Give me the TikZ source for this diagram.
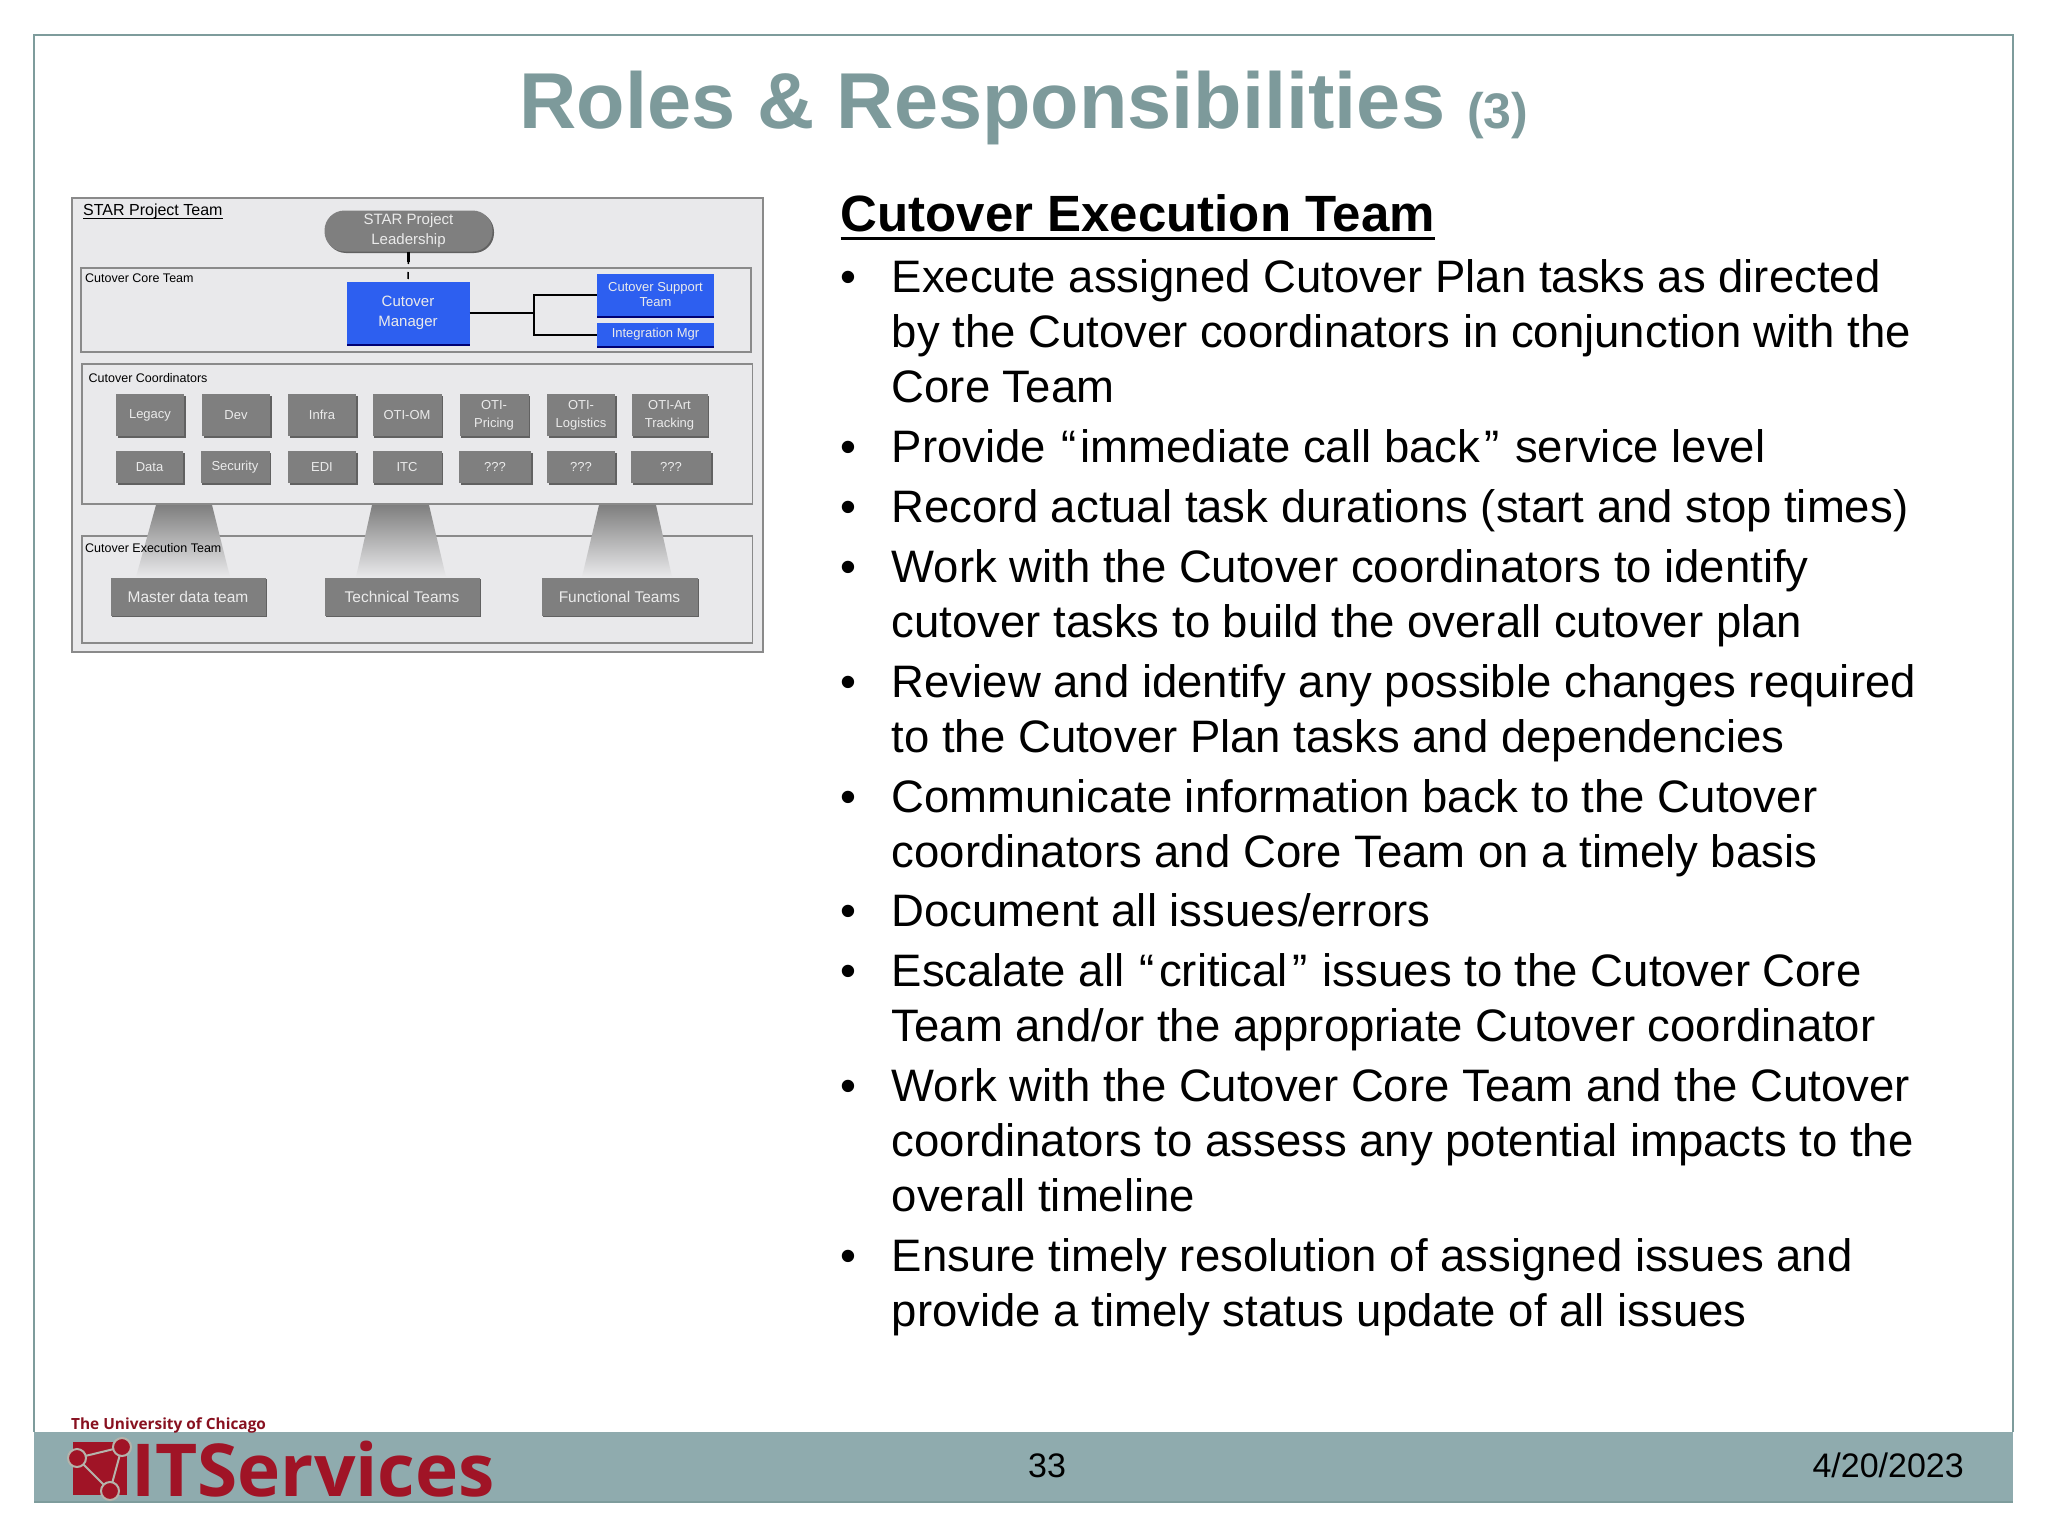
\documentclass[tikz,border=0pt]{standalone}
\usepackage{fontspec}
\usepackage{xcolor}
\setmainfont{Liberation Sans}
\newfontfamily\logofont{Open Sans}
\usetikzlibrary{shadows}
\definecolor{barteal}{HTML}{8FABAE}
\definecolor{frameteal}{HTML}{7E9C9C}
\definecolor{titleteal}{HTML}{7D9A9B}
\definecolor{panelgrey}{HTML}{E9E9EB}
\definecolor{boxgrey}{HTML}{7F7F7F}
\definecolor{edgegrey}{HTML}{8A8A8A}
\definecolor{topblue}{HTML}{2D5FF0}
\definecolor{maroon}{HTML}{A01426}
\definecolor{logoline}{HTML}{B5B3AB}
\newcommand{\openq}{\kern3pt“\kern4pt}
\newcommand{\closeq}{\kern4pt”\kern3pt}
\tikzset{
  bodyline/.style={anchor=base west,inner sep=0pt,font=\fontsize{45.5}{52}\selectfont},
  panelframe/.style={draw=edgegrey,line width=1.5pt},
  panellabel/.style={anchor=base west,inner sep=0pt,font=\fontsize{12.5}{14}\selectfont},
  greybox/.style={fill=boxgrey,text=white!92!black,align=center,inner sep=0pt,
    font=\fontsize{13}{18}\selectfont,
    drop shadow={shadow xshift=1.5pt,shadow yshift=-1.5pt,fill=black!62,opacity=1}},
  bluebox/.style={fill=topblue,text=white!92!black,align=center,inner sep=0pt,
    drop shadow={shadow xshift=0pt,shadow yshift=-2pt,fill=blue!45!black,opacity=1}},
  logodot/.style={circle,fill=maroon,draw=logoline,line width=2pt,minimum size=18pt,inner sep=0pt}
}

\begin{document}
\begin{tikzpicture}[x=1pt,y=-1pt]
  \useasboundingbox (0,0) rectangle (2048,1536);

  % slide frame and footer bar
  \draw[frameteal,line width=2pt] (34,1432)--(34,35)--(2013,35)--(2013,1432);
  \fill[barteal] (34,1432) rectangle (2013,1502);
  \draw[frameteal,line width=1.5pt] (34,1502)--(2013,1502);

  \node[anchor=base,inner sep=0pt,text=titleteal,font=\bfseries] (title) at (1024,129)
    {\fontsize{79.3}{90}\selectfont Roles \& Responsibilities \fontsize{50}{90}\selectfont (3)};

  % small org chart on the left
  \filldraw[fill=panelgrey,draw=edgegrey,line width=2pt] (72,198) rectangle (763,652);
  \draw[panelframe] (81,268) rectangle (751,352);
  \draw[panelframe] (82,364) rectangle (752.5,504);
  \draw[panelframe] (82,536) rectangle (752.5,643);

  \shade[top color=boxgrey,bottom color=panelgrey] (156,505)--(212,505)--(230,577)--(136,577)--cycle;
  \shade[top color=boxgrey,bottom color=panelgrey] (372,505)--(429,505)--(446,577)--(356,577)--cycle;
  \shade[top color=boxgrey,bottom color=panelgrey] (599,505)--(656,505)--(672,577)--(582,577)--cycle;

  \node[anchor=base west,inner sep=0pt,font=\fontsize{16}{18}\selectfont] (teamlabel) at (83,215) {STAR Project Team};
  \draw[line width=1.5pt] ([yshift=-3.5pt]teamlabel.base west)--([yshift=-3.5pt]teamlabel.base east);
  \node[panellabel] (corelabel) at (85,282) {Cutover Core Team};
  \node[panellabel] (coordlabel) at (88.5,382.5) {Cutover Coordinators};
  \node[panellabel] (execlabel) at (85,552) {Cutover Execution Team};

  \node[greybox,rounded corners=20pt,minimum width=168pt,minimum height=41pt,
    font=\fontsize{15}{20}\selectfont] (leader) at (408.5,231) {STAR Project\\Leadership};
  \node[bluebox,minimum width=123pt,minimum height=62pt,
    font=\fontsize{15}{20}\selectfont] (manager) at (408,312.5) {Cutover\\Manager};
  \node[bluebox,minimum width=117pt,minimum height=42pt,
    font=\fontsize{13}{15.5}\selectfont] (support) at (655.5,294.5) {Cutover Support\\Team};
  \node[bluebox,minimum width=117pt,minimum height=23pt,
    font=\fontsize{13}{15}\selectfont] (integ) at (655.5,334.5) {Integration Mgr};

  \coordinate (stub) at (408.5,262);
  \coordinate (branch) at (534,312.5);
  \draw[line width=3.5pt] (leader.south)--(stub);
  \draw[line width=1.5pt,dash pattern=on 2pt off 8pt on 7pt off 9pt] (stub)--(manager.north);
  \draw[line width=2pt] (manager.east)--(branch);
  \draw[line width=2pt] (support.west)-|(branch);
  \draw[line width=2pt] (integ.west)-|(branch);

  \foreach \xc/\bw/\name/\lbl in {150/68/legacy/Legacy,236/68/dev/Dev,322/68/infra/Infra,
      407/69/otiom/OTI-OM,494/69/otipricing/{OTI-\\Pricing},581/68/otilogistics/{OTI-\\Logistics},
      669.5/76/otiart/{OTI-Art\\Tracking}}
    \node[greybox,minimum width=\bw pt,minimum height=42pt] (\name) at (\xc,415) {\lbl};

  \foreach \xc/\bw/\name/\lbl in {149.5/67/data/Data,235/69/security/Security,322/68/edi/EDI,
      407/69/itc/ITC,495/72/tbda/???,581/68/tbdb/???,671/80/tbdc/???}
    \node[greybox,minimum width=\bw pt,minimum height=32pt] (\name) at (\xc,467) {\lbl};

  \foreach \xc/\bw/\name/\lbl in {188/155/masterteam/Master data team,402/155/techteam/Technical Teams,
      619.5/156/functeam/Functional Teams}
    \node[greybox,minimum width=\bw pt,minimum height=38pt,font=\fontsize{15.5}{18}\selectfont] (\name) at (\xc,596.5) {\lbl};

  % text on the right
  \node[anchor=base west,inner sep=0pt,font=\bfseries\fontsize{51}{58}\selectfont] (head) at (840.5,231) {Cutover Execution Team};
  \draw[line width=3pt] ([yshift=-7pt]head.base west)--([yshift=-7pt]head.base east);

  \foreach \ypos in {292.5,462.5,522.5,582.5,697.5,812.5,926,986,1101,1271}
    \node[bodyline] (bullet\ypos) at (840,\ypos) {•};

  \foreach \ypos/\txt [count=\n] in {
      292.5/{Execute assigned Cutover Plan tasks as directed},
      347.5/{by the Cutover coordinators in conjunction with the},
      402.5/{Core Team},
      462.5/{Provide \openq immediate call back\closeq{} service level},
      522.5/{Record actual task durations (start and stop times)},
      582.5/{Work with the Cutover coordinators to identify},
      637.5/{cutover tasks to build the overall cutover plan},
      697.5/{Review and identify any possible changes required},
      752.5/{to the Cutover Plan tasks and dependencies},
      812.5/{Communicate information back to the Cutover},
      867.5/{coordinators and Core Team on a timely basis},
      926/{Document all issues/errors},
      986/{Escalate all \openq critical\closeq{} issues to the Cutover Core},
      1041/{Team and/or the appropriate Cutover coordinator},
      1101/{Work with the Cutover Core Team and the Cutover},
      1156/{coordinators to assess any potential impacts to the},
      1211/{overall timeline},
      1271/{Ensure timely resolution of assigned issues and},
      1326/{provide a timely status update of all issues}}
    \node[bodyline] (line\n) at (891.5,\ypos) {\txt};

  % footer
  \node[anchor=base west,inner sep=0pt,text=maroon!85!black,font=\logofont\bfseries\fontsize{15.4}{18}\selectfont] (uni) at (71,1429) {The University of Chicago};
  \fill[maroon] (73,1442) rectangle (127,1495);
  \draw[logoline,line width=2pt] (77,1458) coordinate (a) -- (122,1447) coordinate (b) -- (110,1491) coordinate (c) -- cycle;
  \node[logodot] (dota) at (a) {};
  \node[logodot] (dotb) at (b) {};
  \node[logodot] (dotc) at (c) {};
  \node[anchor=base west,inner sep=0pt,text=maroon,font=\logofont\bfseries\fontsize{73}{80}\selectfont] (brand) at (131,1496) {ITServices};

  \node[anchor=base west,inner sep=0pt,font=\fontsize{34}{38}\selectfont] (pagenum) at (1028,1477) {33};
  \node[anchor=base east,inner sep=0pt,font=\fontsize{34}{38}\selectfont] (datestamp) at (1964,1477) {4/20/2023};
\end{tikzpicture}
\end{document}
